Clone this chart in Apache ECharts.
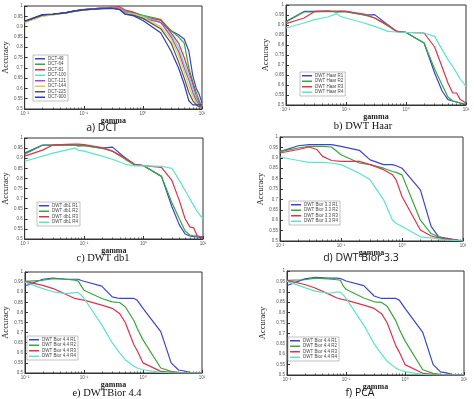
<!DOCTYPE html>
<html>
<head>
<meta charset="utf-8">
<script src="https://cdn.jsdelivr.net/npm/echarts@6/dist/echarts.min.js"></script>
<style>
  html, body { margin: 0; padding: 0; background: #fff; }
  #main { width: 474px; height: 399px; }
</style>
</head>
<body>
<div id="main"></div>
<script>
// gamma values per panel
var gammaA = [0.01,0.02,0.03,0.05,0.07,0.1,0.2,0.3,0.4,0.5,0.7,1,2,3,4,5,6,7,8,9,10];
var gammaB = [0.01,0.02,0.03,0.05,0.07,0.08,0.1,0.2,0.3,0.5,0.7,1,2,3,4,5,6,7,8,10];
var gammaD = [0.01,0.02,0.03,0.04,0.05,0.07,0.1,0.2,0.3,0.5,0.7,0.8,1,2,3,4,5,10];
var gammaE = [0.01,0.02,0.03,0.05,0.07,0.08,0.09,0.1,0.2,0.3,0.4,0.5,0.7,0.8,1,2,3,4,5,7,10];

// a) DCT
var dct49  = [0.925,0.957,0.96,0.968,0.976,0.982,0.99,0.99,0.985,0.97,0.965,0.95,0.92,0.88,0.86,0.84,0.78,0.66,0.6,0.57,0.53];
var dct64  = [0.922,0.952,0.958,0.966,0.974,0.98,0.988,0.992,0.99,0.975,0.968,0.955,0.935,0.88,0.85,0.82,0.7,0.63,0.58,0.54,0.51];
var dct81  = [0.924,0.955,0.96,0.967,0.975,0.982,0.99,0.995,0.998,0.98,0.97,0.95,0.93,0.87,0.82,0.75,0.68,0.62,0.56,0.53,0.51];
var dct100 = [0.923,0.954,0.959,0.966,0.975,0.981,0.989,0.993,0.992,0.972,0.962,0.95,0.92,0.86,0.8,0.72,0.66,0.6,0.55,0.52,0.51];
var dct121 = [0.924,0.955,0.96,0.967,0.976,0.982,0.99,0.994,0.99,0.968,0.958,0.94,0.92,0.85,0.78,0.7,0.64,0.58,0.54,0.52,0.51];
var dct144 = [0.92,0.95,0.957,0.965,0.974,0.98,0.988,0.99,0.987,0.965,0.96,0.945,0.9,0.84,0.76,0.68,0.61,0.56,0.53,0.51,0.51];
var dct225 = [0.925,0.956,0.96,0.967,0.975,0.981,0.989,0.99,0.985,0.962,0.955,0.94,0.89,0.82,0.73,0.65,0.58,0.54,0.52,0.51,0.51];
var dct900 = [0.927,0.958,0.961,0.968,0.976,0.982,0.986,0.988,0.983,0.96,0.952,0.93,0.87,0.78,0.7,0.62,0.54,0.52,0.52,0.52,0.52];

// b) DWT Haar
var haarR1 = [0.918,0.968,0.968,0.97,0.965,0.968,0.968,0.95,0.952,0.9,0.868,0.863,0.81,0.66,0.57,0.527,0.52,0.515,0.51,0.5];
var haarR2 = [0.915,0.965,0.966,0.968,0.966,0.965,0.965,0.95,0.935,0.895,0.868,0.863,0.81,0.68,0.6,0.54,0.52,0.515,0.51,0.505];
var haarR3 = [0.907,0.935,0.968,0.97,0.97,0.97,0.968,0.955,0.935,0.9,0.868,0.863,0.86,0.79,0.69,0.61,0.56,0.56,0.527,0.51];
var haarR4 = [0.885,0.91,0.927,0.94,0.957,0.943,0.935,0.91,0.893,0.868,0.865,0.863,0.86,0.843,0.777,0.727,0.693,0.66,0.63,0.593];

// c) DWT db1
var db1R1 = [0.925,0.965,0.965,0.967,0.965,0.965,0.963,0.95,0.955,0.9,0.87,0.863,0.81,0.66,0.57,0.525,0.515,0.512,0.51,0.505];
var db1R2 = [0.92,0.964,0.965,0.966,0.964,0.96,0.962,0.948,0.935,0.893,0.868,0.863,0.81,0.68,0.6,0.54,0.52,0.515,0.515,0.51];
var db1R3 = [0.91,0.94,0.965,0.968,0.97,0.97,0.967,0.953,0.935,0.9,0.87,0.863,0.855,0.79,0.69,0.6,0.56,0.555,0.515,0.51];
var db1R4 = [0.885,0.91,0.925,0.94,0.95,0.94,0.935,0.91,0.895,0.87,0.862,0.862,0.86,0.85,0.79,0.74,0.7,0.665,0.635,0.6];

// d) DWT Bior 3.3
var b33R1 = [0.93,0.958,0.963,0.963,0.963,0.963,0.955,0.936,0.89,0.867,0.867,0.862,0.85,0.746,0.57,0.52,0.515,0.5];
var b33R2 = [0.93,0.947,0.955,0.955,0.955,0.952,0.915,0.875,0.867,0.85,0.834,0.83,0.818,0.6,0.536,0.52,0.512,0.5];
var b33R3 = [0.923,0.94,0.952,0.94,0.907,0.887,0.883,0.883,0.867,0.843,0.818,0.794,0.714,0.553,0.524,0.515,0.51,0.5];
var b33R4 = [0.904,0.887,0.878,0.878,0.878,0.875,0.867,0.826,0.794,0.698,0.6,0.585,0.57,0.52,0.515,0.51,0.505,0.5];

// e) DWT Bior 4.4
var b44R1 = [0.931,0.964,0.97,0.964,0.964,0.964,0.958,0.954,0.93,0.877,0.869,0.869,0.869,0.86,0.82,0.705,0.55,0.515,0.51,0.5,0.5];
var b44R2 = [0.954,0.959,0.967,0.964,0.96,0.955,0.93,0.91,0.869,0.852,0.849,0.828,0.76,0.72,0.664,0.525,0.508,0.503,0.5,0.5,0.5];
var b44R3 = [0.954,0.934,0.918,0.889,0.869,0.866,0.863,0.861,0.836,0.82,0.795,0.75,0.64,0.61,0.55,0.508,0.503,0.5,0.5,0.5,0.5];
var b44R4 = [0.95,0.918,0.902,0.893,0.898,0.898,0.885,0.87,0.738,0.65,0.6,0.566,0.533,0.525,0.516,0.503,0.5,0.5,0.5,0.5,0.5];

// f) PCA
var pcaR1 = [0.93,0.962,0.97,0.966,0.966,0.964,0.958,0.952,0.93,0.88,0.868,0.868,0.868,0.86,0.82,0.705,0.55,0.515,0.51,0.5,0.5];
var pcaR2 = [0.955,0.958,0.966,0.962,0.958,0.956,0.928,0.912,0.87,0.852,0.849,0.83,0.76,0.72,0.664,0.525,0.508,0.503,0.5,0.5,0.5];
var pcaR3 = [0.955,0.935,0.918,0.89,0.87,0.866,0.862,0.86,0.836,0.82,0.795,0.75,0.64,0.61,0.55,0.508,0.503,0.5,0.5,0.5,0.5];
var pcaR4 = [0.95,0.92,0.903,0.893,0.898,0.898,0.885,0.868,0.74,0.65,0.6,0.566,0.533,0.525,0.516,0.503,0.5,0.5,0.5,0.5,0.5];

var blue = '#3a42dc', green = '#38a838', red = '#e4304a', cyan = '#5ae6c6';
var magenta = '#b044e0', yellow = '#d6d63a', gray = '#555555', navy = '#2f3ab8';

var panels = [
  { x: gammaA, grid: {left:20, top:6, width:182, height:103}, nameGap: 13, legend: {left:33, top:55},
    series: [['DCT-49', dct49, blue], ['DCT-64', dct64, green], ['DCT-81', dct81, red], ['DCT-100', dct100, cyan],
             ['DCT-121', dct121, magenta], ['DCT-144', dct144, yellow], ['DCT-225', dct225, gray], ['DCT-900', dct900, navy]] },
  { x: gammaB, grid: {left:286, top:5, width:180, height:100}, nameGap: 16, legend: {left:300, top:72},
    series: [['DWT Haar R1', haarR1, blue], ['DWT Haar R2', haarR2, green], ['DWT Haar R3', haarR3, red], ['DWT Haar R4', haarR4, cyan]] },
  { x: gammaB, grid: {left:20, top:138, width:183, height:101}, nameGap: 13, legend: {left:37, top:202},
    series: [['DWT db1 R1', db1R1, blue], ['DWT db1 R2', db1R2, green], ['DWT db1 R3', db1R3, red], ['DWT db1 R4', db1R4, cyan]] },
  { x: gammaD, grid: {left:280, top:137, width:183, height:104}, nameGap: 15, legend: {left:289, top:201},
    series: [['DWT Bior 3.3 R1', b33R1, blue], ['DWT Bior 3.3 R2', b33R2, green], ['DWT Bior 3.3 R3', b33R3, red], ['DWT Bior 3.3 R4', b33R4, cyan]] },
  { x: gammaE, grid: {left:20, top:272, width:182, height:101}, nameGap: 15, legend: {left:27, top:336},
    series: [['DWT Bior 4.4 R1', b44R1, blue], ['DWT Bior 4.4 R2', b44R2, green], ['DWT Bior 4.4 R3', b44R3, red], ['DWT Bior 4.4 R4', b44R4, cyan]] },
  { x: gammaE, grid: {left:287, top:271, width:177, height:104}, nameGap: 20, legend: {left:288, top:337},
    series: [['DWT Bior 4.4 R1', pcaR1, blue], ['DWT Bior 4.4 R2', pcaR2, green], ['DWT Bior 4.4 R3', pcaR3, red], ['DWT Bior 4.4 R4', pcaR4, cyan]] }
];

var captions = [
  [102, 128, 'a) DCT', '"Open Sans", sans-serif'],
  [363, 126, 'b) DWT Haar', '"Liberation Serif", serif'],
  [103, 258, 'c) DWT db1', '"Liberation Serif", serif'],
  [361, 258, 'd) DWT Bior 3.3', '"Open Sans", sans-serif'],
  [107, 393, 'e) DWTBior 4.4', '"Liberation Serif", serif'],
  [360, 393, 'f) PCA', '"Open Sans", sans-serif']
];

var sup = {'-': '\u207B', '0': '\u2070', '1': '\u00B9', '2': '\u00B2', '3': '\u00B3'};
function powLabel(v) {
  var e = String(Math.round(Math.log10(v)));
  return '10' + e.split('').map(function (c) { return sup[c]; }).join('');
}

var chart = echarts.init(document.getElementById('main'));
var option = { animation: false, backgroundColor: '#fff', grid: [], xAxis: [], yAxis: [], legend: [], series: [], graphic: [] };

panels.forEach(function (p, i) {
  option.grid.push(Object.assign({ show: true, borderColor: '#333', borderWidth: 1, backgroundColor: '#fff' }, p.grid));
  option.xAxis.push({
    type: 'log', logBase: 10, gridIndex: i, min: 0.01, max: 10,
    name: 'gamma', nameLocation: 'middle', nameGap: 6,
    nameTextStyle: { fontFamily: '"Liberation Serif", serif', fontWeight: 'bold', fontSize: 8, color: '#222' },
    axisLine: { lineStyle: { color: '#333', width: 1 } },
    axisTick: { inside: true, length: 3, lineStyle: { color: '#333' } },
    minorTick: { show: true, splitNumber: 9, length: 1.5, lineStyle: { color: '#555' } },
    splitLine: { show: false },
    axisLabel: { fontSize: 4.5, color: '#555', margin: 2, formatter: powLabel }
  });
  option.yAxis.push({
    type: 'value', gridIndex: i, min: 0.5, max: 1, interval: 0.05,
    name: 'Accuracy', nameLocation: 'middle', nameGap: p.nameGap,
    nameTextStyle: { fontFamily: '"Liberation Serif", serif', fontSize: 8.5, color: '#222' },
    axisLine: { show: true, lineStyle: { color: '#333', width: 1 } },
    axisTick: { inside: true, length: 3, lineStyle: { color: '#333' } },
    splitLine: { show: false },
    axisLabel: { fontSize: 4.5, color: '#555', margin: 2, formatter: function (v) { return String(+v.toFixed(2)); } }
  });
  option.legend.push({
    left: p.legend.left, top: p.legend.top, orient: 'vertical',
    data: p.series.map(function (s) { return s[0]; }),
    icon: 'rect', itemWidth: 10, itemHeight: 1.5, itemGap: 0,
    padding: [1, 2], borderColor: '#999', borderWidth: 0.6, backgroundColor: '#fff',
    textStyle: { fontSize: 4.5, color: '#444', lineHeight: 5.5, padding: [0, 0, 0, -2] }
  });
  p.series.forEach(function (s) {
    option.series.push({
      name: s[0], type: 'line', xAxisIndex: i, yAxisIndex: i,
      showSymbol: false, symbol: 'none', color: s[2],
      lineStyle: { width: 1.2, color: s[2] },
      data: p.x.map(function (g, k) { return [g, s[1][k]]; })
    });
  });
});

captions.forEach(function (c) {
  option.graphic.push({
    type: 'text', x: c[0], y: c[1],
    style: { text: c[2], fontSize: 10.5, fontFamily: c[3], fill: '#111', textAlign: 'center', textVerticalAlign: 'middle' }
  });
});

chart.setOption(option);
</script>
</body>
</html>
